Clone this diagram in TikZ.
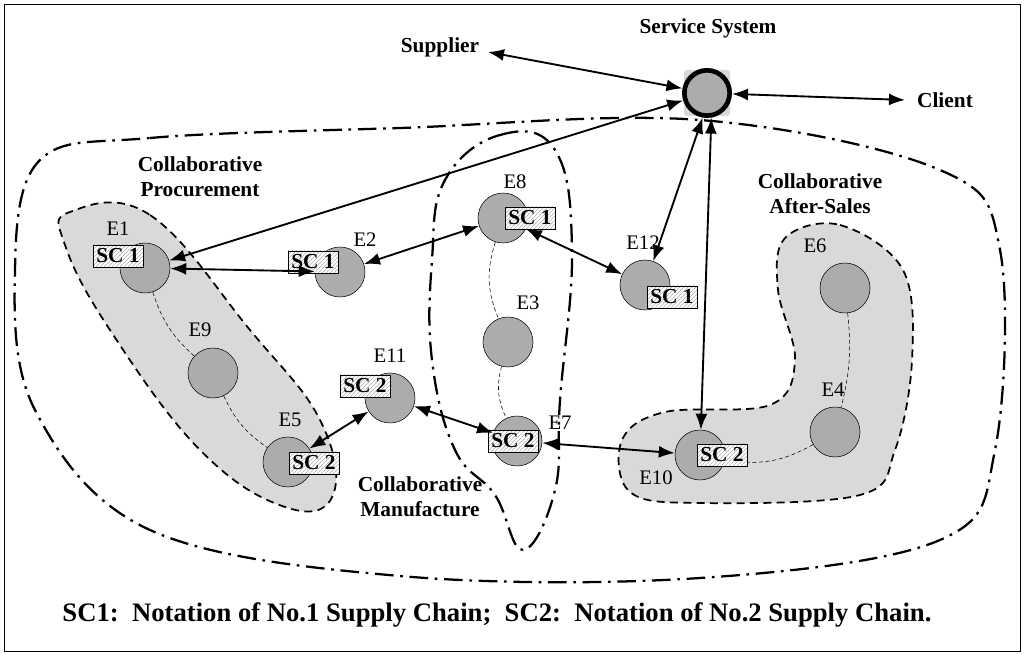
\documentclass[tikz,border=0pt]{standalone}
\usepackage{fontspec}
\setmainfont{Liberation Serif}
\usetikzlibrary{arrows.meta,patterns,calc}
\begin{document}
\begin{tikzpicture}[x=0.75pt,y=-0.75pt,
 ent/.style={circle,draw,fill=gray!65,minimum size=37.5pt,inner sep=0},
 lab/.style={font=\fontsize{15.5}{15.5}\selectfont},
 bt/.style={font=\bfseries\fontsize{16}{19}\selectfont,align=center},
 arr/.style={{Latex[length=12pt,width=9pt]}-{Latex[length=12pt,width=9pt]},line width=1.4pt},
 link/.style={densely dashed,thin},
 dd/.style={line width=1.7pt,dash pattern=on 14pt off 5pt on 2pt off 5pt}]
\useasboundingbox (0,0) rectangle (1024,655);
\draw (4,4) rectangle (1020,651);
% regions
\draw[dd] plot[smooth cycle,tension=0.6] coordinates{(40,160)(150,138)(400,128)(700,120)(940,170)(1000,250)(995,450)(940,540)(700,578)(400,576)(150,530)(35,410)(15,270)};
\draw[dd,fill=white] plot[smooth cycle,tension=0.7] coordinates{(445,180)(500,135)(555,150)(572,250)(560,400)(555,490)(523,550)(495,495)(455,450)(432,360)(432,260)};
\draw[dashed,line width=1.3pt,dash pattern=on 6pt off 4pt,fill=gray!30] plot[smooth cycle,tension=0.7] coordinates{(70,212)(150,215)(250,330)(320,420)(333,495)(285,507)(200,450)(110,330)(65,245)};
\draw[dashed,line width=1.3pt,dash pattern=on 6pt off 4pt,fill=gray!30] plot[smooth cycle,tension=0.6] coordinates{(785,238)(840,225)(903,270)(912,360)(895,450)(860,495)(700,503)(630,492)(622,440)(665,412)(770,405)(795,360)(778,290)};
% service system
\fill[gray!30,rounded corners=2pt] (684,70) rectangle (730,116);
\node[circle,draw,line width=3.5pt,fill=gray!65,minimum size=34pt,inner sep=0] (ss) at (707,93) {};
% entities
\node[ent] (e1) at (145,268) {};
\node[ent] (e2) at (340,272) {};
\node[ent] (e8) at (503,218) {};
\node[ent] (e12) at (645,285) {};
\node[ent] (e6) at (845,288) {};
\node[ent] (e3) at (508,342) {};
\node[ent] (e9) at (213,373) {};
\node[ent] (e11) at (390,398) {};
\node[ent] (e5) at (288,462) {};
\node[ent] (e7) at (517,441) {};
\node[ent] (e10) at (700,455) {};
\node[ent] (e4) at (835,432) {};
\draw[link] (e1) to[bend right=15] (e9);
\draw[link] (e9) to[bend right=15] (e5);
\draw[link] (e8) to[bend right=20] (e3);
\draw[link] (e3) to[bend right=20] (e7);
\draw[link] (e6) to[bend left=10] (e4);
\draw[link] (e4) to[bend left=20] (e10);
% labels
\node[lab] (l1) at (118,229) {E1};
\node[lab] (l2) at (365,240) {E2};
\node[lab] (l8) at (515,182) {E8};
\node[lab] (l12) at (643,243) {E12};
\node[lab] (l6) at (815,246) {E6};
\node[lab] (l3) at (528,303) {E3};
\node[lab] (l9) at (200,330) {E9};
\node[lab] (l11) at (390,356) {E11};
\node[lab] (l5) at (290,420) {E5};
\node[lab] (l7) at (560,423) {E7};
\node[lab] (l10) at (656,478) {E10};
\node[lab] (l4) at (833,390) {E4};
% SC boxes
\foreach \n/\x/\y/\t in {s1/118/256/SC 1,s2/313/262/SC 1,s8/530/218/SC 1,s12/672/297/SC 1,s11/365/386/SC 2,s5/314/463/SC 2,s7/513/441/SC 2,s10/722/455/SC 2}{
 \fill[white] (\x-25,\y-11) rectangle (\x+25,\y+11);
 \fill[pattern=north east lines,pattern color=gray!60] (\x-25,\y-11) rectangle (\x+25,\y+11);
 \node[draw,line width=0.6pt,font=\bfseries\fontsize{16}{16}\selectfont,minimum width=37.5pt,minimum height=16.5pt,inner sep=0] (\n) at (\x,\y) {\t};
}
% texts
\node[bt] (sup) at (440,47) {Supplier};
\node[bt] (sst) at (708,28) {Service System};
\node[bt] (cli) at (945,100) {Client};
\node[bt] at (200,177) {Collaborative\\Procurement};
\node[bt] at (820,194) {Collaborative\\After-Sales};
\node[bt] at (420,497) {Collaborative\\Manufacture};
\node[font=\bfseries\fontsize{20}{20}\selectfont] at (497,615) {SC1:\ \ Notation of No.1 Supply Chain;\ \ SC2:\ \ Notation of No.2 Supply Chain.};
% arrows
\coordinate (supa) at (488,52);
\coordinate (clia) at (905,100);
\draw[arr] (supa) -- (ss);
\draw[arr] (ss) -- (clia);
\draw[arr] (ss) -- (e1);
\draw[arr] (ss.-100) -- (e12);
\draw[arr] (ss.-80) -- (e10);
\draw[arr] (e1) -- (e2);
\draw[arr] (e2) -- (e8);
\draw[arr] (e8) -- (e12);
\draw[arr] (e5) -- (e11);
\draw[arr] (e11) -- (e7);
\draw[arr] (e7) -- (e10);
\end{tikzpicture}
\end{document}
